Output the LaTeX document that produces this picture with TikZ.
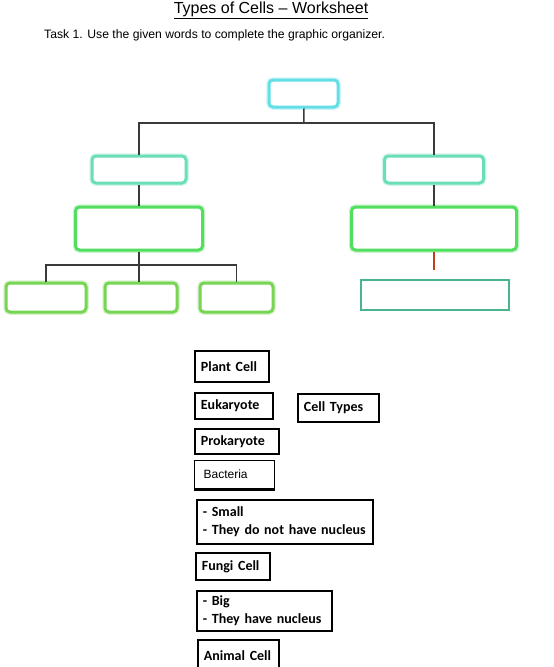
\documentclass[tikz,border=0pt]{standalone}
\usepackage{fontspec}
\setmainfont{Liberation Sans}
\newfontfamily\calibri{Carlito}
\definecolor{cyanbox}{HTML}{62DEE6}
\definecolor{aquabox}{HTML}{6ADFB6}
\definecolor{greenbox}{HTML}{52DE5E}
\definecolor{limebox}{HTML}{76D654}
\definecolor{tealbox}{HTML}{4AB48C}
\definecolor{linkgray}{HTML}{3A3A3A}
\definecolor{stubred}{HTML}{C0401E}
\begin{document}
\begin{tikzpicture}[x=1pt, y=-1pt,
    cellbox/.style={draw=#1, line width=3pt, rounded corners=4pt, fill=white,
        preaction={draw=#1!30, line width=5.5pt}, inner sep=0pt},
    link/.style={draw=linkgray, line width=1.5pt},
    wordbox/.style={draw, line width=1.8pt, anchor=north west, inner xsep=6pt,
        inner ysep=0pt, align=left, font=\calibri\bfseries\fontsize{14}{18}\selectfont}]
            \useasboundingbox (0,0) rectangle (554,667);

            \node[inner sep=0pt, font=\fontsize{16}{19}\selectfont] (title) at (271,10) {\underline{Types of Cells – Worksheet}};
            \node[inner sep=0pt, anchor=west, font=\fontsize{12.2}{14}\selectfont] (task) at (44,35) {Task 1. Use the given words to complete the graphic organizer.};

            \node[cellbox=cyanbox, minimum width=69, minimum height=27] (top) at (303.5,93.5) {};
            \node[cellbox=aquabox, minimum width=94, minimum height=27] (midL) at (139,169.5) {};
            \node[cellbox=aquabox, minimum width=99, minimum height=27] (midR) at (434,169.5) {};
            \node[cellbox=greenbox, minimum width=127, minimum height=43] (bigL) at (139,228.5) {};
            \node[cellbox=greenbox, minimum width=165, minimum height=43] (bigR) at (434,228.5) {};
            \node[cellbox=limebox, minimum width=80, minimum height=29] (botA) at (46,297.5) {};
            \node[cellbox=limebox, minimum width=72, minimum height=29] (botB) at (141,297.5) {};
            \node[cellbox=limebox, minimum width=73, minimum height=29] (botC) at (236.5,297.5) {};
            \node[draw=tealbox, line width=2.5pt, minimum width=148, minimum height=30] (botR) at (435,295) {};

            \coordinate (jtop) at (304,123);
            \coordinate (jleft) at (139,265);
            \coordinate (stub) at (434,270);

            \draw[link] (top) -- (jtop);
            \draw[link] (midL.north) |- (jtop) -| (midR.north);
            \draw[link] (midL) -- (bigL);
            \draw[link] (midR) -- (bigR);
            \draw[link] (bigL) -- (jleft);
            \draw[link] (botA.north) |- (jleft) -| (botC.north);
            \draw[link] (jleft) -- (jleft |- botB.north);
            \draw[draw=stubred, line width=1.3pt] (bigR.south) -- (stub);

            \node[wordbox, text width=62, minimum height=31] (plant) at (194,350) {\mbox{Plant Cell}};
            \node[wordbox, text width=66, minimum height=26] (eukar) at (194,392) {\mbox{Eukaryote}};
            \node[wordbox, text width=69, minimum height=28] (types) at (297,393) {\mbox{Cell Types}};
            \node[wordbox, text width=72, minimum height=25] (prokar) at (194,428) {\mbox{Prokaryote}};
            \node[wordbox, line width=1.2pt, inner xsep=9pt, text width=62, minimum height=28,
                font=\fontsize{12}{14}\selectfont] (bact) at (194,460) {\mbox{Bacteria}};
            \draw[line width=3.4pt] (bact.south west) -- (bact.south east);
            \node[wordbox, text width=164, minimum height=44] (small) at (196,499) {\mbox{- Small}\\\mbox{- They do not have nucleus}};
            \node[wordbox, text width=62, minimum height=27] (fungi) at (195,552) {\mbox{Fungi Cell}};
            \node[wordbox, text width=123, minimum height=40] (big) at (196,590) {\mbox{- Big}\\\mbox{- They have nucleus}};
            \node[wordbox, text width=69, minimum height=31] (animal) at (197,639) {\mbox{Animal Cell}};
        \end{tikzpicture}
\end{document}
